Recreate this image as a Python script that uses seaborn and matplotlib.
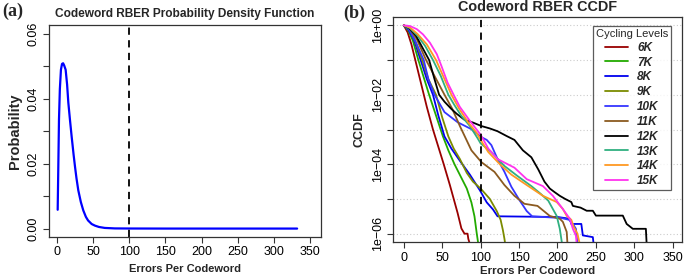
import numpy as np
import pandas as pd
import matplotlib
matplotlib.use("Agg")
import matplotlib.pyplot as plt
import seaborn as sns
from matplotlib.ticker import FixedLocator, NullLocator
from matplotlib.lines import Line2D

# ---------------- data ----------------
pdf_x = [1, 1.8, 2.8, 4, 5.5, 7, 8.5, 10, 12, 14, 15.7, 18, 20.3, 23, 25, 27,
         29.5, 33, 36.4, 40, 43, 48, 52.6, 58, 66, 80, 100, 150, 200, 250, 300, 332]
pdf_y = [0.0058, 0.018, 0.0336, 0.043, 0.049, 0.0508, 0.051, 0.0503, 0.049, 0.0445,
         0.0389, 0.0335, 0.0284, 0.0228, 0.019, 0.0155, 0.0118, 0.0082, 0.0056, 0.0036,
         0.0025, 0.0014, 0.0009, 0.0005, 0.0002, 0.00005, 0.00002, 0.0, 0.0, 0.0, 0.0, 0.0]

levels = ["6K", "7K", "8K", "9K", "10K", "11K", "12K", "13K", "14K", "15K"]
level_colors = ["#990000", "#22AA00", "#0000EE", "#7B8B00", "#3535FF",
                "#8B5A20", "#000000", "#30B080", "#FF9922", "#FF33EE"]

x_6k = [0, 5, 10, 15, 20, 25, 30, 38, 45, 52, 60, 65, 70, 75, 79, 83, 84, 86]
l_6k = [0, -0.2, -0.55, -1.0, -1.45, -1.9, -2.35, -3.0, -3.5, -4.0, -4.6, -5.0, -5.4, -5.85, -6.0, -6.0, -6.15, -6.3]

x_7k = [0, 6, 12, 19, 26, 33, 42, 51, 58, 66, 74, 82, 88, 92, 95, 97]
l_7k = [0, -0.15, -0.45, -1.0, -1.5, -2.0, -2.6, -3.2, -3.6, -4.0, -4.35, -4.7, -5.1, -5.5, -6.0, -6.3]

x_8k = [0, 6, 13, 22, 30, 38, 45, 53, 62, 73, 86, 99, 108, 116, 122, 200, 216, 218, 231, 233, 246, 247]
l_8k = [0, -0.12, -0.4, -1.0, -1.55, -2.0, -2.6, -3.2, -3.55, -3.9, -4.3, -4.75, -5.1, -5.3, -5.5, -5.52, -5.57, -5.72, -5.72, -6.05, -6.1, -6.3]

x_9k = [0, 7, 14, 24, 32, 42, 50, 58, 65, 73, 82, 90, 100, 112, 121, 126, 129, 131, 132]
l_9k = [0, -0.1, -0.4, -1.0, -1.55, -2.0, -2.65, -3.2, -3.55, -3.85, -4.25, -4.5, -4.7, -5.0, -5.35, -5.6, -5.9, -6.15, -6.3]

x_10k = [0, 7, 15, 26, 32, 40, 53, 70, 88, 101, 108, 114, 122, 131, 140, 151, 160, 167, 205, 215, 220, 224, 226]
l_10k = [0, -0.12, -0.45, -1.0, -1.55, -2.0, -2.5, -2.79, -2.99, -3.22, -3.3, -3.45, -3.85, -4.22, -4.65, -5.05, -5.35, -5.5, -5.55, -5.6, -5.72, -5.86, -6.3]

x_11k = [0, 8, 17, 29, 41, 53, 63, 73, 88, 101, 118, 131, 144, 157, 174, 190, 203, 207, 212, 213]
l_11k = [0, -0.1, -0.4, -1.0, -1.5, -2.0, -2.4, -2.9, -3.6, -3.94, -4.22, -4.6, -4.91, -5.14, -5.2, -5.49, -5.57, -5.66, -5.95, -6.3]

x_12k = [0, 7, 16, 33, 40, 46, 53, 62, 69, 79, 90, 101, 112, 122, 134, 144, 155, 166, 175, 183, 190,
         196, 203, 210, 218, 220, 230, 238, 246, 250, 285, 290, 298, 315, 316]
l_12k = [0, -0.08, -0.3, -1.0, -1.55, -2.0, -2.2, -2.41, -2.55, -2.72, -2.8, -2.9, -2.97, -3.05, -3.19, -3.3,
         -3.6, -3.8, -4.15, -4.5, -4.7, -4.8, -4.91, -5.0, -5.09, -5.2, -5.25, -5.34, -5.34, -5.48, -5.48,
         -5.72, -5.86, -5.86, -6.3]

x_13k = [0, 8, 18, 28, 38, 48, 58, 66, 75, 86, 96, 100, 114, 131, 148, 166, 178, 188, 199, 203, 206]
l_13k = [0, -0.08, -0.3, -0.6, -1.0, -1.45, -2.0, -2.3, -2.61, -2.9, -3.25, -3.4, -3.65, -4.05, -4.34, -4.63, -4.85, -5.05, -5.49, -5.86, -6.3]

x_14k = [0, 8, 18, 30, 42, 52, 62, 72, 84, 95, 100, 110, 125, 140, 160, 181, 199, 207, 212, 218, 221, 226, 229]
l_14k = [0, -0.06, -0.25, -0.55, -1.0, -1.5, -2.0, -2.4, -2.8, -3.1, -3.3, -3.65, -4.0, -4.3, -4.6, -4.91, -5.09, -5.29, -5.49, -5.6, -5.8, -6.0, -6.3]

x_15k = [0, 8, 17, 25, 34, 43, 49, 57, 66, 73, 86, 100, 110, 122, 144, 160, 181, 194, 207, 216, 220, 224, 225]
l_15k = [0, -0.02, -0.11, -0.26, -0.5, -0.83, -1.17, -1.65, -2.05, -2.35, -2.75, -3.15, -3.55, -3.85, -4.1, -4.43, -4.63, -4.91, -5.29, -5.57, -5.86, -6.06, -6.3]

series_x = [x_6k, x_7k, x_8k, x_9k, x_10k, x_11k, x_12k, x_13k, x_14k, x_15k]
series_l = [l_6k, l_7k, l_8k, l_9k, l_10k, l_11k, l_12k, l_13k, l_14k, l_15k]

pdf_xticks = [0, 50, 100, 150, 200, 250, 300, 350]
pdf_yticks = [0.00, 0.01, 0.02, 0.03, 0.04, 0.05, 0.06]
pdf_yticklabels = ["0.00", "", "0.02", "", "0.04", "", "0.06"]
ccdf_yticks = [1e0, 1e-1, 1e-2, 1e-3, 1e-4, 1e-5, 1e-6]
ccdf_yticklabels = ["1e+00", "", "1e\u221202", "", "1e\u221204", "", "1e\u221206"]

# ---------------- style ----------------
sns.set_style("ticks")
plt.rcParams["font.family"] = ["Liberation Sans", "DejaVu Sans"]

fig = plt.figure(figsize=(6.85, 2.76), dpi=100)
axL = fig.add_axes([49 / 685, 1 - 237 / 276, 272 / 685, 212 / 276])
axR = fig.add_axes([393 / 685, 1 - 242 / 276, 289 / 685, 225 / 276])

edge = "#333333"
for ax in (axL, axR):
    for s in ax.spines.values():
        s.set_color(edge)
        s.set_linewidth(0.9)
    ax.tick_params(colors=edge, labelcolor="black", length=4, width=0.8, labelsize=9,
                   direction="out", pad=2.5)

# ---------------- left: PDF ----------------
pdf_df = pd.DataFrame({"errors": pdf_x, "prob": pdf_y})
sns.lineplot(data=pdf_df, x="errors", y="prob", ax=axL, color="#0000FF", lw=1.6, sort=False)
axL.axvline(100, color="black", ls=(0, (4, 3)), lw=1.3)
axL.set_xlim(-11, 365)
axL.set_ylim(-0.0026, 0.0628)
axL.xaxis.set_major_locator(FixedLocator(pdf_xticks))
axL.yaxis.set_major_locator(FixedLocator(pdf_yticks))
axL.set_yticklabels(pdf_yticklabels, rotation=90, va="center")
axL.set_title("Codeword RBER Probability Density Function", fontsize=8.6,
              fontweight="bold", pad=6)
axL.set_xlabel("Errors Per Codeword", fontsize=8, fontweight="bold", labelpad=4)
axL.set_ylabel("Probability", fontsize=10.5, fontweight="bold", labelpad=4)

# ---------------- right: CCDF ----------------
rows = []
for lev, xs, ls in zip(levels, series_x, series_l):
    for xv, lv in zip(xs, ls):
        rows.append((lev, xv, 10.0 ** lv))
ccdf_df = pd.DataFrame(rows, columns=["level", "errors", "ccdf"])
pal = dict(zip(levels, level_colors))
for yv in ccdf_yticks:
    axR.axhline(yv, color="#cccccc", ls=(0, (1, 2)), lw=0.8, zorder=0)
sns.lineplot(data=ccdf_df, x="errors", y="ccdf", hue="level", hue_order=levels,
             palette=pal, ax=axR, sort=False, estimator=None, lw=1.3, legend=False)
axR.axvline(100, color="black", ls=(0, (4, 3)), lw=1.3)
axR.set_yscale("log")
axR.set_xlim(-14, 362)
axR.set_ylim(10 ** -6.24, 10 ** 0.24)
axR.xaxis.set_major_locator(FixedLocator(pdf_xticks))
axR.yaxis.set_major_locator(FixedLocator(ccdf_yticks))
axR.yaxis.set_minor_locator(NullLocator())
axR.set_yticklabels(ccdf_yticklabels, rotation=90, va="center")
axR.tick_params(axis="x", pad=3.5)
axR.set_title("Codeword RBER CCDF", fontsize=10.4, fontweight="bold", pad=4)
axR.set_xlabel("Errors Per Codeword", fontsize=8.2, fontweight="bold", labelpad=1)
axR.set_ylabel("CCDF", fontsize=9, fontweight="bold", labelpad=5)

handles = [Line2D([0], [0], color=c, lw=1.3) for c in level_colors]
leg = axR.legend(handles, levels, title="Cycling Levels", loc="upper right",
                 bbox_to_anchor=(0.962, 0.96), borderaxespad=0, frameon=True,
                 fancybox=False, prop={"weight": "bold", "style": "italic", "size": 8.5},
                 title_fontsize=8, handlelength=1.9, handletextpad=0.8,
                 labelspacing=0.24, borderpad=0.25)
leg.get_frame().set_edgecolor("#333333")
leg.get_frame().set_linewidth(0.9)

fig.text(2 / 685, 1 - 16 / 276, "(a)", fontsize=13, fontweight="bold",
         family=["Liberation Serif", "DejaVu Serif"], va="baseline")
fig.text(343 / 685, 1 - 18 / 276, "(b)", fontsize=13, fontweight="bold",
         family=["Liberation Serif", "DejaVu Serif"], va="baseline")

fig.savefig("out.png", dpi=100)
